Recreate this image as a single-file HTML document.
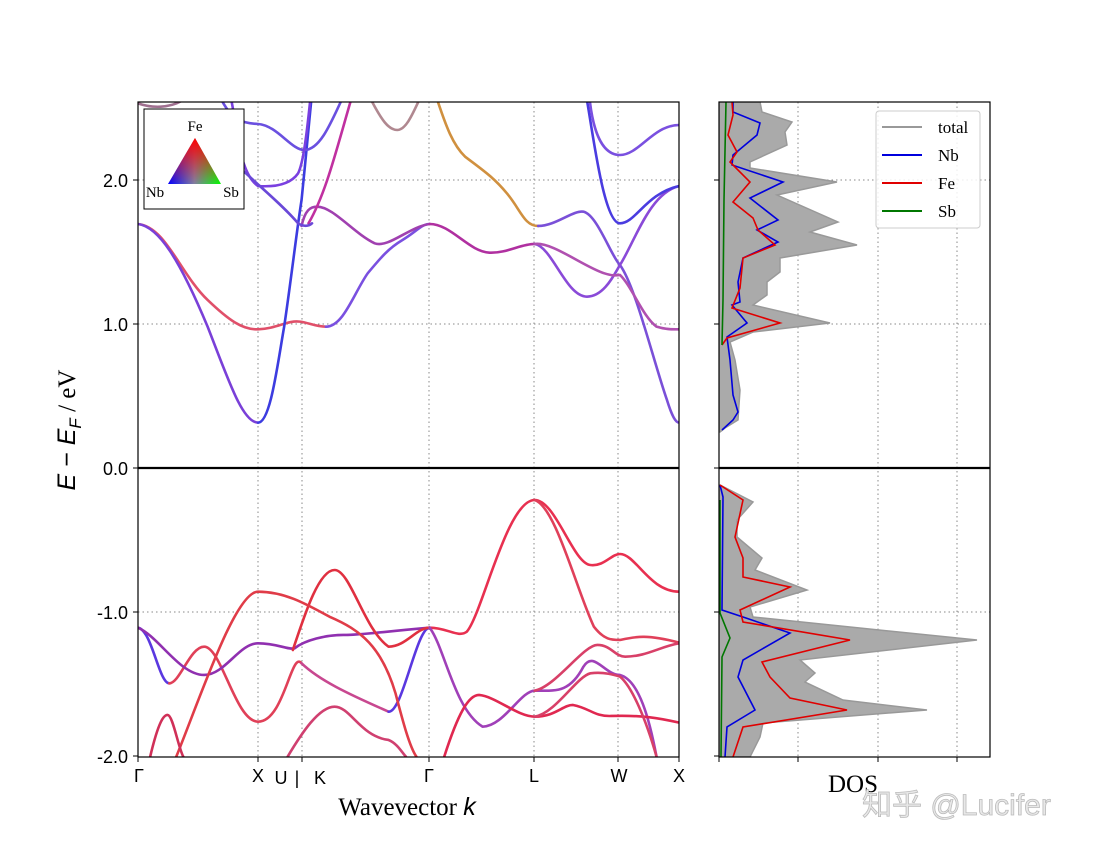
<!DOCTYPE html>
<html><head><meta charset="utf-8"><style>
body{margin:0;background:#fff;width:1100px;height:850px;overflow:hidden}
svg{display:block}
.b{fill:none;stroke-width:2.6;stroke-linecap:round;stroke-linejoin:round}
.g{stroke:#888;stroke-width:1;stroke-dasharray:1.5,3}
.t{font-family:"Liberation Sans",sans-serif;font-size:18px;fill:#000}
.s{font-family:"Liberation Serif",serif;fill:#000}
</style></head><body>
<svg width="1100" height="850" viewBox="0 0 1100 850">
<defs>
<linearGradient id="tb" x1="0" x2="1" y1="0" y2="0"><stop offset="0" stop-color="#0000ff"/><stop offset="0.5" stop-color="#8080a0"/><stop offset="1" stop-color="#00ff00"/></linearGradient>
<linearGradient id="tr" x1="0" x2="0" y1="0" y2="1"><stop offset="0" stop-color="#ff0000" stop-opacity="1"/><stop offset="1" stop-color="#ff0000" stop-opacity="0"/></linearGradient>
<clipPath id="cb"><rect x="138" y="102" width="541" height="655"/></clipPath>
<clipPath id="cd"><rect x="719" y="102" width="271" height="655"/></clipPath>
</defs>
<g class="g">
<line x1="258" y1="102" x2="258" y2="757"/><line x1="302" y1="102" x2="302" y2="757"/><line x1="429" y1="102" x2="429" y2="757"/><line x1="534" y1="102" x2="534" y2="757"/><line x1="618" y1="102" x2="618" y2="757"/>
<line x1="138" y1="180" x2="679" y2="180"/><line x1="138" y1="324" x2="679" y2="324"/><line x1="138" y1="612" x2="679" y2="612"/>
<line x1="798" y1="102" x2="798" y2="757"/><line x1="878" y1="102" x2="878" y2="757"/><line x1="957" y1="102" x2="957" y2="757"/>
<line x1="719" y1="180" x2="990" y2="180"/><line x1="719" y1="324" x2="990" y2="324"/><line x1="719" y1="612" x2="990" y2="612"/>
</g>
<g clip-path="url(#cb)">
<g transform="translate(138,100) scale(0.348,0.3333)">
<g class="b">
<path vector-effect="non-scaling-stroke" stroke="#a07090" d="M0,10 C40,25 90,25 130,0"/>
<path vector-effect="non-scaling-stroke" stroke="#e0506a" d="M0,372 C80,380 120,520 200,600 C260,660 300,690 345,688 C400,686 430,660 465,665 C490,668 510,680 540,680"/>
<path vector-effect="non-scaling-stroke" stroke="#7a40d8" d="M0,372 C60,380 120,480 200,680 C260,840 300,968 345,968"/>
<path vector-effect="non-scaling-stroke" stroke="#3c3ce0" d="M345,968 C380,968 400,800 420,680 C440,540 455,400 470,300 C480,200 490,80 498,0"/>
<path vector-effect="non-scaling-stroke" stroke="#7a50e0" d="M540,680 C590,680 620,580 660,520 C700,470 720,445 760,420 C800,395 815,372 838,372"/>
<path vector-effect="non-scaling-stroke" stroke="#a040b0" d="M470,378 C480,330 495,320 515,320 C560,320 620,400 680,430 C720,445 780,380 838,372"/>
<path vector-effect="non-scaling-stroke" stroke="#c030a0" d="M490,370 C540,280 570,150 612,0"/>
<path vector-effect="non-scaling-stroke" stroke="#6a50e0" d="M240,0 C270,60 300,70 345,72 C400,76 440,150 478,150 C520,150 550,80 585,0"/>
<path vector-effect="non-scaling-stroke" stroke="#7a40e0" d="M268,0 C285,80 290,220 345,258 C400,262 440,250 460,220 C475,190 485,100 495,0"/>
<path vector-effect="non-scaling-stroke" stroke="#6a48d8" d="M300,210 C350,260 420,320 460,370 C475,380 490,380 500,370"/>
<path vector-effect="non-scaling-stroke" stroke="#b08890" d="M670,0 C700,60 720,90 745,90 C770,90 790,40 808,0"/>
<path vector-effect="non-scaling-stroke" stroke="#d0903f" d="M860,0 C880,60 900,130 940,170 C990,210 1020,230 1060,280 C1100,330 1110,378 1150,378"/>
<path vector-effect="non-scaling-stroke" stroke="#b030a0" d="M838,372 C900,372 950,455 1010,458 C1060,460 1100,432 1140,432"/>
<path vector-effect="non-scaling-stroke" stroke="#7a50d8" d="M1150,378 C1200,378 1250,330 1280,335 C1320,345 1360,470 1385,495 C1430,560 1480,780 1520,900 C1535,950 1545,968 1555,968"/>
<path vector-effect="non-scaling-stroke" stroke="#8a4ad8" d="M1140,432 C1190,440 1230,590 1290,590 C1340,590 1370,520 1385,495 C1430,420 1470,280 1555,258"/>
<path vector-effect="non-scaling-stroke" stroke="#b050b0" d="M1140,432 C1190,425 1280,500 1340,520 C1370,530 1375,525 1385,525 C1420,560 1450,650 1490,680 C1520,690 1540,688 1555,688"/>
<path vector-effect="non-scaling-stroke" stroke="#4a3ce0" d="M1290,0 C1310,120 1340,370 1385,370 C1430,370 1460,280 1555,258"/>
<path vector-effect="non-scaling-stroke" stroke="#7a50e0" d="M1298,0 C1310,110 1340,165 1385,165 C1440,165 1480,75 1555,75"/>
</g></g>
<g transform="translate(138,480) scale(0.348,0.3333)">
<g class="b">
<path vector-effect="non-scaling-stroke" stroke="#e83050" d="M838,443 C890,443 920,475 945,455 C990,400 1060,60 1140,60 C1200,60 1250,250 1300,255 C1340,260 1360,222 1385,222 C1430,222 1470,335 1555,335"/>
<path vector-effect="non-scaling-stroke" stroke="#e0405a" d="M1140,60 C1200,80 1260,330 1310,440 C1340,480 1360,480 1385,480 C1430,470 1460,462 1555,488"/>
<path vector-effect="non-scaling-stroke" stroke="#5a38e0" d="M0,443 C40,450 60,610 90,610"/>
<path vector-effect="non-scaling-stroke" stroke="#e04058" d="M90,610 C120,610 150,500 190,500 C240,500 280,725 345,725 C420,725 440,510 470,550"/>
<path vector-effect="non-scaling-stroke" stroke="#c84890" d="M470,550 C520,600 600,640 720,695"/>
<path vector-effect="non-scaling-stroke" stroke="#5a38e0" d="M720,695 C760,700 800,443 838,443"/>
<path vector-effect="non-scaling-stroke" stroke="#9030b0" d="M0,443 C60,470 120,585 190,585 C250,585 290,490 345,490 C400,490 430,510 450,505 C480,480 540,465 590,465 C650,465 700,455 838,443"/>
<path vector-effect="non-scaling-stroke" stroke="#e03040" d="M445,510 C480,400 520,270 565,270 C610,270 650,450 720,500 C770,500 800,443 838,443"/>
<path vector-effect="non-scaling-stroke" stroke="#e03c48" d="M110,830 C180,650 280,335 345,335 C420,335 480,370 550,410 C640,450 700,500 740,640 C760,720 780,800 800,830"/>
<path vector-effect="non-scaling-stroke" stroke="#d03058" d="M35,830 C60,720 75,705 85,705 C100,705 115,800 130,830"/>
<path vector-effect="non-scaling-stroke" stroke="#d04070" d="M430,830 C470,760 520,680 565,680 C610,680 640,770 720,780 C745,790 760,820 770,830"/>
<path vector-effect="non-scaling-stroke" stroke="#a040b8" d="M838,443 C880,500 910,690 990,740 C1050,740 1100,632 1140,632 C1200,632 1240,640 1280,560 C1310,510 1340,585 1385,585 C1440,600 1470,720 1490,830"/>
<path vector-effect="non-scaling-stroke" stroke="#e02850" d="M880,830 C920,700 950,645 980,645 C1030,650 1090,710 1140,710 C1200,710 1220,675 1250,675 C1300,685 1310,710 1360,708 C1450,705 1500,715 1555,728"/>
<path vector-effect="non-scaling-stroke" stroke="#d84068" d="M1140,710 C1200,700 1260,590 1300,580 C1340,575 1370,585 1385,590 C1420,620 1460,720 1490,830"/>
<path vector-effect="non-scaling-stroke" stroke="#d84068" d="M1140,632 C1200,620 1280,495 1320,495 C1360,495 1370,530 1400,530 C1460,530 1500,500 1555,490"/>
</g></g>
</g>
<g clip-path="url(#cd)">
<path fill="#aaa" stroke="#999" stroke-width="1.5" d="M719,102 L760,102 762,112 792,122 785,132 787,145 750,162 750,168 837,182 777,195 838,222 810,232 857,245 780,258 780,272 767,282 767,295 753,305 830,323 753,332 730,342 735,360 740,390 738,420 725,428 720,432 719,432 Z"/>
<path fill="#aaa" stroke="#999" stroke-width="1.5" d="M719,485 L720,485 753,502 737,520 737,537 762,558 755,570 807,590 750,607 753,617 977,640 800,660 815,673 805,682 843,700 927,710 763,723 760,737 750,757 719,757 Z"/>
<g fill="none" stroke-width="1.6">
<polyline stroke="#0000dd" points="733,102 733,112 760,123 757,135 733,155 732,165 783,182 750,198 778,220 757,230 778,242 743,258 738,282 740,302 732,305 747,323 727,337 730,360 733,395 738,412 733,420 722,430"/>
<polyline stroke="#e00000" points="732,102 733,115 728,135 737,152 730,162 750,182 733,202 753,218 758,230 775,245 743,258 740,288 732,308 780,323 727,338 722,345"/>
<polyline stroke="#007700" points="726,102 724,200 723,300 722,345"/>
<polyline stroke="#0000dd" points="720,485 723,497 722,610 743,617 790,633 743,660 738,677 755,710 727,727 725,757"/>
<polyline stroke="#e00000" points="720,485 743,500 735,537 743,558 743,577 790,587 740,610 743,622 850,640 762,662 770,677 790,698 847,710 743,727 733,757"/>
<polyline stroke="#007700" points="720,500 720,613 730,638 722,657 721,757"/>
</g>
</g>
<line x1="138" y1="468" x2="679" y2="468" stroke="#000" stroke-width="2.2"/>
<line x1="719" y1="468" x2="990" y2="468" stroke="#000" stroke-width="2.2"/>
<rect x="138" y="102" width="541" height="655" fill="none" stroke="#000" stroke-width="1.2"/>
<rect x="719" y="102" width="271" height="655" fill="none" stroke="#000" stroke-width="1.2"/>
<g stroke="#000" stroke-width="1">
<line x1="133" y1="180" x2="138" y2="180"/><line x1="133" y1="324" x2="138" y2="324"/><line x1="133" y1="468" x2="138" y2="468"/><line x1="133" y1="612" x2="138" y2="612"/><line x1="133" y1="756" x2="138" y2="756"/>
<line x1="714" y1="180" x2="719" y2="180"/><line x1="714" y1="324" x2="719" y2="324"/><line x1="714" y1="468" x2="719" y2="468"/><line x1="714" y1="612" x2="719" y2="612"/><line x1="714" y1="756" x2="719" y2="756"/>
<line x1="138" y1="757" x2="138" y2="762"/><line x1="258" y1="757" x2="258" y2="762"/><line x1="302" y1="757" x2="302" y2="762"/><line x1="429" y1="757" x2="429" y2="762"/><line x1="534" y1="757" x2="534" y2="762"/><line x1="618" y1="757" x2="618" y2="762"/><line x1="679" y1="757" x2="679" y2="762"/>
<line x1="719" y1="757" x2="719" y2="762"/><line x1="798" y1="757" x2="798" y2="762"/><line x1="878" y1="757" x2="878" y2="762"/><line x1="957" y1="757" x2="957" y2="762"/>
</g>
<g class="t" text-anchor="end">
<text x="128" y="187">2.0</text><text x="128" y="331">1.0</text><text x="128" y="475">0.0</text><text x="128" y="619">-1.0</text><text x="128" y="763">-2.0</text>
</g>
<g class="t" text-anchor="middle">
<text x="139" y="782">Γ</text><text x="258" y="782">X</text><text x="281" y="784">U</text><text x="297" y="784">|</text><text x="320" y="784">K</text><text x="429" y="782">Γ</text><text x="534" y="782">L</text><text x="619" y="782">W</text><text x="679" y="782">X</text>
</g>
<text class="s" x="407" y="815" font-size="25" text-anchor="middle">Wavevector <tspan font-family="Liberation Sans" font-style="italic">k</tspan></text>
<text class="s" x="853" y="792" font-size="25" text-anchor="middle">DOS</text>
<text transform="translate(75,430) rotate(-90)" text-anchor="middle" font-size="25" class="s"><tspan font-family="Liberation Sans" font-style="italic">E</tspan><tspan font-family="Liberation Sans"> − </tspan><tspan font-family="Liberation Sans" font-style="italic">E</tspan><tspan font-family="Liberation Sans" font-style="italic" font-size="17" dy="6">F</tspan><tspan dy="-6"> / eV</tspan></text>
<rect x="144" y="109" width="100" height="100" fill="#fff" stroke="#000" stroke-width="1"/>
<polygon points="195,138 168,184 221,184" fill="url(#tb)"/>
<polygon points="195,138 168,184 221,184" fill="url(#tr)"/>
<text class="s" x="195" y="131" font-size="15" text-anchor="middle">Fe</text>
<text class="s" x="155" y="197" font-size="15" text-anchor="middle">Nb</text>
<text class="s" x="231" y="197" font-size="15" text-anchor="middle">Sb</text>
<rect x="876" y="111" width="104" height="117" rx="3" fill="#fff" fill-opacity="0.85" stroke="#ccc"/>
<g stroke-width="2">
<line x1="882" y1="127" x2="922" y2="127" stroke="#999"/><line x1="882" y1="155" x2="922" y2="155" stroke="#0000dd"/><line x1="882" y1="183" x2="922" y2="183" stroke="#e00000"/><line x1="882" y1="211" x2="922" y2="211" stroke="#007700"/>
</g>
<g class="s" font-size="17">
<text x="938" y="133">total</text><text x="938" y="161">Nb</text><text x="938" y="189">Fe</text><text x="938" y="217">Sb</text>
</g>
<text x="862" y="815" font-family="'Liberation Sans','Noto Sans CJK SC',sans-serif" font-size="30" fill="#e8e8e8" stroke="#bbb" stroke-width="0.8">知乎 @Lucifer</text>
</svg>
</body></html>
